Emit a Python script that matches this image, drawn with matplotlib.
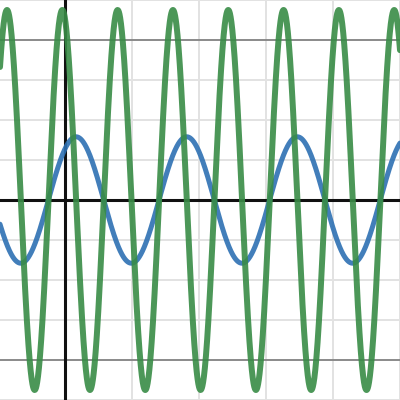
import numpy as np
import matplotlib
matplotlib.use("Agg")
import matplotlib.pyplot as plt

# view window (graph units)
x_range = [-0.97, 5.0]
y_range = [-5.0, 5.0]
minor_x = [-1, 1, 2, 3, 4, 5]
minor_y = [-5, -3, -2, -1, 1, 2, 3, 5]
major_y = [-4, 4]

# curves: amplitude, period, x of a crest
blue_amp, blue_period, blue_crest = 1.58, 1.651, 0.165
green_amp, green_period, green_crest = 4.75, 0.8255, -0.04

fig = plt.figure(figsize=(4, 4), dpi=100)
ax = fig.add_axes([0, 0, 1, 1])
ax.set_xlim(x_range)
ax.set_ylim(y_range)
ax.axis("off")

for v in minor_x:
    ax.axvline(v, color="#e2e2e2", lw=1.4, zorder=0)
for v in minor_y:
    ax.axhline(v, color="#e2e2e2", lw=1.4, zorder=0)
for v in major_y:
    ax.axhline(v, color="#8a8a8a", lw=1.4, zorder=0)
ax.axhline(0, color="#111111", lw=2.2, zorder=1)
ax.axvline(0, color="#111111", lw=2.2, zorder=1)

x = np.linspace(x_range[0], x_range[1], 3000)
blue = blue_amp * np.cos(2 * np.pi * (x - blue_crest) / blue_period)
green = green_amp * np.cos(2 * np.pi * (x - green_crest) / green_period)
ax.plot(x, blue, color="#2d70b3", alpha=0.9, lw=3.6, zorder=2, solid_capstyle="round")
ax.plot(x, green, color="#388c46", alpha=0.9, lw=4.3, zorder=3, solid_capstyle="round")

fig.savefig("out.png", dpi=100)
